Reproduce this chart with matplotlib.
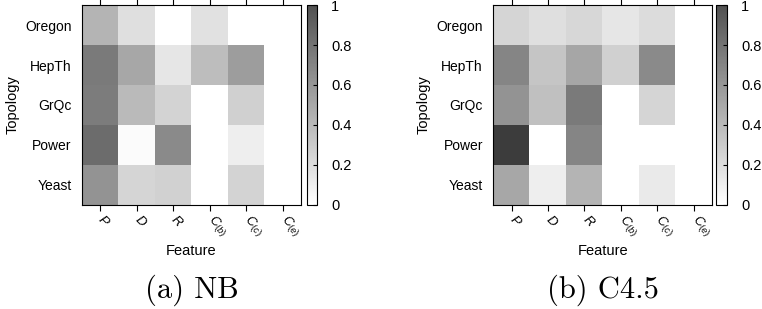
import numpy as np
import matplotlib
matplotlib.use("Agg")
import matplotlib.pyplot as plt
from matplotlib.colors import LinearSegmentedColormap, Normalize

plt.rcParams['font.family'] = ['Liberation Sans', 'DejaVu Sans']
plt.rcParams['mathtext.fontset'] = 'custom'
plt.rcParams['mathtext.it'] = 'Liberation Sans:italic'
plt.rcParams['mathtext.rm'] = 'Liberation Sans'

topologies = ["Oregon", "HepTh", "GrQc", "Power", "Yeast"]
features = [r"$P$", r"$D$", r"$R$", r"$C_{(b)}$", r"$C_{(c)}$", r"$C_{(e)}$"]

# rows: Oregon, HepTh, GrQc, Power, Yeast ; cols: P, D, R, C(b), C(c), C(e)
nb = np.array([
    [0.43, 0.18, 0.00, 0.17, 0.00, 0.00],
    [0.76, 0.50, 0.14, 0.38, 0.56, 0.00],
    [0.75, 0.39, 0.25, 0.00, 0.27, 0.00],
    [0.84, 0.02, 0.67, 0.00, 0.10, 0.00],
    [0.62, 0.24, 0.26, 0.00, 0.25, 0.00],
])
c45 = np.array([
    [0.24, 0.18, 0.23, 0.14, 0.20, 0.00],
    [0.70, 0.33, 0.51, 0.27, 0.67, 0.00],
    [0.62, 0.36, 0.76, 0.00, 0.24, 0.00],
    [1.12, 0.00, 0.70, 0.00, 0.00, 0.00],
    [0.50, 0.10, 0.43, 0.00, 0.12, 0.00],
])
captions = ["(a) NB", "(b) C4.5"]

cmap = LinearSegmentedColormap.from_list("g", ["#ffffff", "#3c3c3c"])
norm = Normalize(0, 1.12)

fig = plt.figure(figsize=(7.62, 3.09), dpi=100)
ax_pos = [[0.1076, 0.3366, 0.2874, 0.6472], [0.6475, 0.3366, 0.2866, 0.6472]]
cb_pos = [[0.4025, 0.3366, 0.0140, 0.6472], [0.9396, 0.3366, 0.0150, 0.6472]]

for k, data in enumerate([nb, c45]):
    ax = fig.add_axes(ax_pos[k])
    im = ax.imshow(data, cmap=cmap, norm=norm, aspect='auto', interpolation='nearest')
    ax.set_xticks(range(len(features)))
    ax.set_xticklabels(features, rotation=-45, ha='left', va='center',
                       rotation_mode='anchor', fontsize=9.5)
    ax.set_yticks(range(len(topologies)))
    ax.set_yticklabels(topologies, fontsize=10)
    ax.tick_params(axis='x', top=True, bottom=True, direction='out', length=4, pad=5)
    ax.tick_params(axis='y', left=False, right=False, pad=4)
    ax.set_xlabel("Feature", fontsize=10.5, labelpad=3)
    ax.set_ylabel("Topology", fontsize=10.5, labelpad=4)

    cax = fig.add_axes(cb_pos[k])
    cb = fig.colorbar(im, cax=cax, boundaries=np.linspace(0, 1, 257), values=np.linspace(0, 1, 256))
    cb.set_ticks([0, 0.2, 0.4, 0.6, 0.8, 1])
    cb.set_ticklabels(["0", "0.2", "0.4", "0.6", "0.8", "1"])
    cb.ax.tick_params(direction='in', length=3, labelsize=10.5, pad=10)
    cb.outline.set_linewidth(0.8)

    fig.text(ax_pos[k][0] + ax_pos[k][2] / 2, 0.06, captions[k], family='cmr10',
             fontsize=22, ha='center', va='center')

fig.savefig("out.png", dpi=100)
